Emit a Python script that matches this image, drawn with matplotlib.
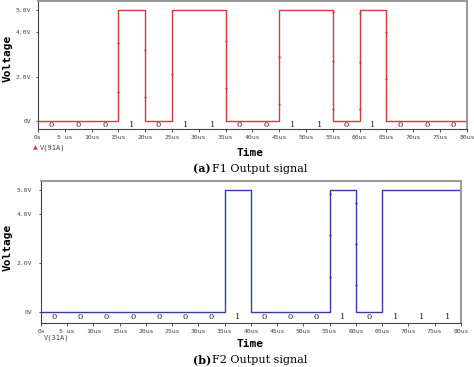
import matplotlib
matplotlib.use('Agg')
import matplotlib.pyplot as plt
import numpy as np

# bit sequences, one bit per 5 us
t_bits = np.arange(0, 80, 5)
bits_f1 = [0, 0, 0, 1, 0, 1, 1, 0, 0, 1, 1, 0, 1, 0, 0, 0]
bits_f2 = [0, 0, 0, 0, 0, 0, 0, 1, 0, 0, 0, 1, 0, 1, 1, 1]

# sample dots on the edges (time us, voltage V)
dots_f1_t = [15, 15, 20, 20, 25, 35, 35, 45, 45, 55, 55, 55, 60, 60, 60, 65, 65]
dots_f1_v = [3.5, 1.3, 3.2, 1.1, 2.1, 3.6, 1.5, 2.9, 0.75, 4.9, 2.7, 0.55, 4.85, 2.65, 0.55, 4.0, 1.9]
dots_f2_t = [55, 55, 55, 60, 60, 60]
dots_f2_v = [4.85, 3.15, 1.45, 4.45, 2.8, 1.1]

xticks = np.arange(0, 85, 5)
xticklabels = ['0s', '5 us'] + ['%dus' % t for t in xticks[2:]]
yticks = [0, 2, 4, 5]
yticklabels = ['0V', '2.0V', '4.0V', '5.0V']

red = '#d8383a'
blue = '#3a3aa6'
mono = 'DejaVu Sans Mono'

fig = plt.figure(figsize=(4.74, 3.67), dpi=100)


def mkPanel(rect, bits, dots_t, dots_v, color, ylim, bit_y, ypad):
    ax = fig.add_axes(rect)
    tt = list(t_bits) + [80]
    vv = [5.0 * b for b in bits] + [5.0 * bits[-1]]
    ax.step(tt, vv, where='post', color=color, lw=1.0)
    ax.plot(dots_t, dots_v, ls='none', marker='o', ms=1.6, color=color, mew=0)
    for t, b in zip(t_bits, bits):
        ax.text(t + 2.5, bit_y, str(b), ha='center', va='center', fontsize=6,
                family='DejaVu Serif', color='#222222')
    ax.set_xlim(0, 80)
    ax.set_ylim(*ylim)
    ax.set_xticks(xticks)
    ax.set_xticklabels(xticklabels, family=mono, fontsize=4.6, color='#444444')
    ax.set_yticks(yticks)
    ax.set_yticklabels(yticklabels, family=mono, fontsize=4.6, color='#444444')
    ax.tick_params(axis='x', length=2, width=0.6, pad=2, color='#333333')
    ax.tick_params(axis='y', length=1.5, width=0.6, pad=ypad, color='#333333')
    ax.spines['left'].set_color('#444444')
    ax.spines['bottom'].set_color('#444444')
    ax.spines['top'].set_color('#999999')
    ax.spines['right'].set_color('#999999')
    ax.spines['top'].set_linewidth(1.4)
    ax.spines['right'].set_linewidth(1.4)
    return ax


ax1 = mkPanel([0.080, 0.6485, 0.905, 0.349], bits_f1, dots_f1_t, dots_f1_v, red,
              (-0.36, 5.41), -0.18, 3.5)
ax2 = mkPanel([0.0865, 0.1199, 0.886, 0.387], bits_f2, dots_f2_t, dots_f2_v, blue,
              (-0.45, 5.37), -0.2, 5.0)

# y axis titles
fig.text(8 / 474, 1 - 58 / 367, 'Voltage', family=mono, fontweight='bold', fontsize=8,
         rotation=90, ha='center', va='center')
fig.text(8 / 474, 1 - 247 / 367, 'Voltage', family=mono, fontweight='bold', fontsize=8,
         rotation=90, ha='center', va='center')

# trace names
fig.text(33 / 474, 1 - 148 / 367, u'\u25b2', color=red, fontsize=4.5, va='center', ha='left')
fig.text(40 / 474, 1 - 148 / 367, 'V(91A)', family=mono, fontsize=5, color='#444444', va='center')
fig.text(44 / 474, 1 - 337.5 / 367, 'V(31A)', family=mono, fontsize=5, color='#444444', va='center')

# x axis titles
fig.text(250 / 474, 1 - 153 / 367, 'Time', family=mono, fontweight='bold', fontsize=8, ha='center', va='center')
fig.text(250 / 474, 1 - 344 / 367, 'Time', family=mono, fontweight='bold', fontsize=8, ha='center', va='center')

# captions
fig.text(193 / 474, 1 - 169 / 367, '(a)', family='DejaVu Serif', fontweight='bold', fontsize=8, va='center')
fig.text(212 / 474, 1 - 169 / 367, 'F1 Output signal', family='DejaVu Serif', fontsize=8, va='center')
fig.text(193 / 474, 1 - 360 / 367, '(b)', family='DejaVu Serif', fontweight='bold', fontsize=8, va='center')
fig.text(212 / 474, 1 - 360 / 367, 'F2 Output signal', family='DejaVu Serif', fontsize=8, va='center')

fig.savefig('out.png', dpi=100)
